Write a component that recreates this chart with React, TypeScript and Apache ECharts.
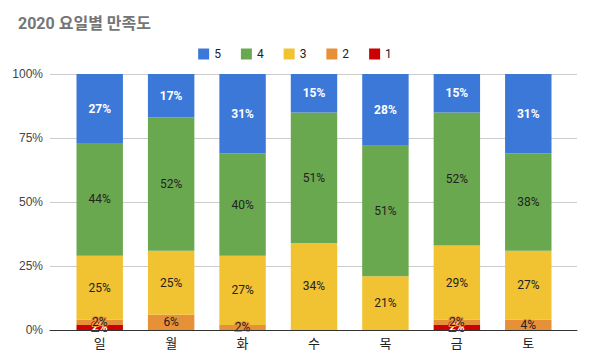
import React, { useEffect, useRef } from "react";
import * as echarts from "echarts";

const days = ["일", "월", "화", "수", "목", "금", "토"];
const s5 = [27, 17, 31, 15, 28, 15, 31];
const s4 = [44, 52, 40, 51, 51, 52, 38];
const s3 = [25, 25, 27, 34, 21, 29, 27];
const s2 = [2, 6, 2, 0, 0, 2, 4];
const s1 = [2, 0, 0, 0, 0, 2, 0];
const yTicks = [0, 25, 50, 75, 100];

const FONT = "Roboto, 'Noto Sans CJK KR', sans-serif";
const AXFONT = "Arial, 'Liberation Sans', 'Noto Sans CJK KR', sans-serif";

export default function App() {
  const ref = useRef<HTMLDivElement>(null);
  useEffect(() => {
    if (!ref.current) return;
    const chart = echarts.init(ref.current, null, { renderer: "svg" });
    const mk = (
      name: string,
      data: number[],
      color: string,
      labelColor: string,
      bold: boolean,
      border?: string
    ) => ({
      name,
      type: "bar",
      stack: "total",
      data,
      xAxisIndex: 1,
      yAxisIndex: 1,
      barCategoryGap: "35%",
      itemStyle: { color },
      label: {
        show: true,
        position: "inside",
        color: labelColor,
        fontSize: 12,
        fontFamily: FONT,
        fontWeight: bold ? "bold" : "normal",
        textBorderColor: border || "transparent",
        textBorderWidth: border ? 2 : 0,
        formatter: (p: any) => (p.value > 0 ? p.value + "%" : ""),
      },
    });
    chart.setOption({
      animation: false,
      title: {
        text: "2020 요일별 만족도",
        left: 13,
        top: 10,
        textStyle: { fontSize: 16, fontWeight: "bold", color: "#757575", fontFamily: FONT },
      },
      legend: {
        data: ["5", "4", "3", "2", "1"],
        top: 43,
        left: "center",
        itemWidth: 11,
        itemHeight: 11,
        itemGap: 20,
        icon: "rect",
        textStyle: { fontSize: 12, color: "#222", fontFamily: FONT },
      },
      grid: [
        { left: 50, right: 13, top: 74, bottom: 31, containLabel: false },
        { left: 64, right: 26, top: 74, bottom: 31, containLabel: false },
      ],
      xAxis: [
        {
          type: "category",
          gridIndex: 0,
          data: days,
          axisTick: { show: false },
          axisLabel: { show: false },
          axisLine: { lineStyle: { color: "#333", width: 1 } },
          z: 5,
        },
        {
          type: "category",
          gridIndex: 1,
          data: days,
          axisTick: { show: false },
          axisLine: { show: false },
          axisLabel: { fontSize: 13, color: "#222", margin: 7, fontFamily: FONT },
        },
      ],
      yAxis: [
        {
          type: "value",
          gridIndex: 0,
          min: 0,
          max: 100,
          interval: 25,
          axisLabel: {
            fontSize: 12,
            color: "#444",
            margin: 7,
            fontFamily: AXFONT,
            formatter: (v: number) => (yTicks.includes(v) ? v + "%" : ""),
          },
          splitLine: { lineStyle: { color: "#cccccc" } },
          axisLine: { show: false },
          axisTick: { show: false },
        },
        {
          type: "value",
          gridIndex: 1,
          min: 0,
          max: 100,
          interval: 25,
          show: false,
          splitLine: { show: false },
        },
      ],
      series: [
        mk("1", s1, "#cc0000", "#ffffff", true, "#cc0000"),
        mk("2", s2, "#e69138", "#222222", false, "#e69138"),
        mk("3", s3, "#f1c232", "#222222", false),
        mk("4", s4, "#6aa84f", "#222222", false),
        mk("5", s5, "#3c78d8", "#ffffff", true),
      ],
    });
    return () => chart.dispose();
  }, []);
  return <div ref={ref} style={{ width: 590, height: 361, position: "absolute", left: 0, top: 0 }} />;
}
